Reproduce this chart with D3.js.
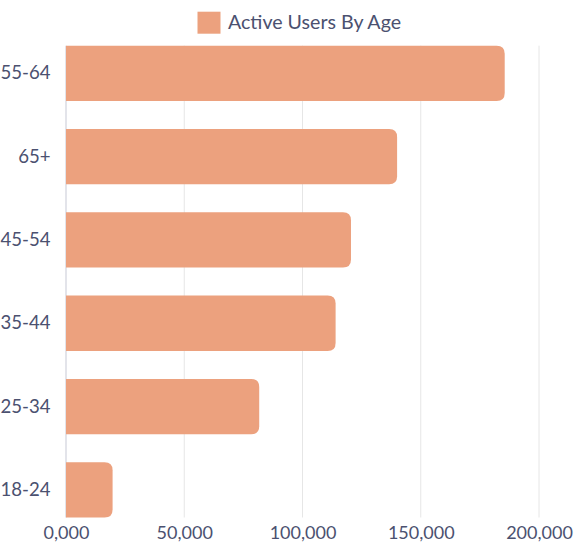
<!DOCTYPE html>
<html>
<head>
<meta charset="utf-8">
<script src="https://cdn.jsdelivr.net/npm/d3@7"></script>
<style>
  html, body { margin: 0; padding: 0; background: #fff; }
  svg { display: block; font-family: Lato, "Noto Sans", sans-serif; }
</style>
</head>
<body>
<div id="chart"></div>
<script>
const width = 574;
const height = 545;
const margin = { top: 45.7, right: 35, bottom: 27.5, left: 66 };

const ageGroups = ["55-64", "65+", "45-54", "35-44", "25-34", "18-24"];
const activeUsers = [185500, 140000, 120500, 114000, 81700, 19700];
const xTicks = [0, 50000, 100000, 150000, 200000];
const seriesName = "Active Users By Age";

const barColor = "#eca17e";
const textColor = "#4b5170";
const gridColor = "#e6e6e6";

const data = ageGroups.map((g, i) => ({ group: g, value: activeUsers[i] }));

const svg = d3
  .select("#chart")
  .append("svg")
  .attr("width", width)
  .attr("height", height);

const xScale = d3
  .scaleLinear()
  .domain([0, 200000])
  .range([margin.left, 539]);

const yScale = d3
  .scaleBand()
  .domain(ageGroups)
  .range([margin.top, height - margin.bottom])
  .paddingInner(0.336)
  .paddingOuter(0);

// grid lines
svg
  .append("g")
  .selectAll("line")
  .data(xTicks.slice(1))
  .enter()
  .append("line")
  .attr("x1", (d) => xScale(d))
  .attr("x2", (d) => xScale(d))
  .attr("y1", margin.top)
  .attr("y2", height - margin.bottom)
  .attr("stroke", gridColor)
  .attr("stroke-width", 1);

// y axis line
svg
  .append("line")
  .attr("x1", xScale(0))
  .attr("x2", xScale(0))
  .attr("y1", margin.top)
  .attr("y2", height - margin.bottom)
  .attr("stroke", "#dadbe3")
  .attr("stroke-width", 1.5);

// bars with rounded right end
const r = 8;
function barPath(d) {
  const x0 = xScale(0);
  const x1 = xScale(d.value);
  const y0 = yScale(d.group);
  const h = yScale.bandwidth();
  const rr = Math.min(r, (x1 - x0) / 2, h / 2);
  return `M${x0},${y0}H${x1 - rr}Q${x1},${y0} ${x1},${y0 + rr}` +
    `V${y0 + h - rr}Q${x1},${y0 + h} ${x1 - rr},${y0 + h}H${x0}Z`;
}

svg
  .append("g")
  .selectAll("path")
  .data(data)
  .enter()
  .append("path")
  .attr("d", barPath)
  .attr("fill", barColor);

// axes
const xAxis = d3
  .axisBottom(xScale)
  .tickValues(xTicks)
  .tickFormat((d) => (d === 0 ? "0,000" : d3.format(",")(d)))
  .tickSize(0)
  .tickPadding(9);
const gx = svg
  .append("g")
  .attr("transform", `translate(0, ${height - margin.bottom})`)
  .call(xAxis);
gx.select(".domain").remove();
gx.selectAll("text")
  .attr("fill", textColor)
  .style("font-size", "18px")
  .style("font-family", "Lato, sans-serif");

const yAxis = d3.axisLeft(yScale).tickSize(0).tickPadding(15.5);
const gy = svg
  .append("g")
  .attr("transform", `translate(${margin.left}, 0)`)
  .call(yAxis);
gy.select(".domain").remove();
gy.selectAll("text")
  .attr("fill", textColor)
  .style("font-size", "18.6px")
  .style("font-family", "Lato, sans-serif");

// legend
const legend = svg.append("g");
legend
  .append("rect")
  .attr("x", 197.5)
  .attr("y", 11.7)
  .attr("width", 23)
  .attr("height", 22)
  .attr("fill", barColor);
legend
  .append("text")
  .attr("x", 228)
  .attr("y", 28.6)
  .attr("fill", textColor)
  .style("font-size", "19.6px")
  .text(seriesName);
</script>
</body>
</html>
